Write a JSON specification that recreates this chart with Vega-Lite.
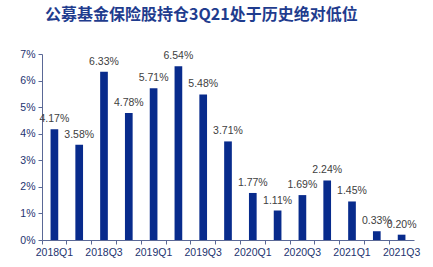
{
  "$schema": "https://vega.github.io/schema/vega-lite/v6.json",
  "autosize": {"type": "none"},
  "width": 372,
  "height": 186,
  "padding": {"left": 42, "top": 54, "right": 19, "bottom": 27},
  "background": "white",
  "config": {
    "view": {"stroke": null},
    "font": "Liberation Sans"
  },
  "title": {
    "text": "公募基金保险股持仓3Q21处于历史绝对低位",
    "anchor": "start",
    "frame": "group",
    "dx": 3,
    "offset": 26,
    "font": "Noto Sans CJK SC",
    "fontSize": 16,
    "fontWeight": "bold",
    "color": "#1f3c8e"
  },
  "data": {
    "values": [
      {"q": "2018Q1", "v": 0.0417},
      {"q": "2018Q2", "v": 0.0358},
      {"q": "2018Q3", "v": 0.0633},
      {"q": "2018Q4", "v": 0.0478},
      {"q": "2019Q1", "v": 0.0571},
      {"q": "2019Q2", "v": 0.0654},
      {"q": "2019Q3", "v": 0.0548},
      {"q": "2019Q4", "v": 0.0371},
      {"q": "2020Q1", "v": 0.0177},
      {"q": "2020Q2", "v": 0.0111},
      {"q": "2020Q3", "v": 0.0169},
      {"q": "2020Q4", "v": 0.0224},
      {"q": "2021Q1", "v": 0.0145},
      {"q": "2021Q2", "v": 0.0033},
      {"q": "2021Q3", "v": 0.0020}
    ]
  },
  "encoding": {
    "x": {
      "field": "q",
      "type": "nominal",
      "sort": null,
      "scale": {"paddingInner": 0, "paddingOuter": 0},
      "axis": {
        "title": null,
        "labelAngle": 0,
        "labelExpr": "(indexof(datum.value,'Q1')>0 || indexof(datum.value,'Q3')>0) ? datum.value : ''",
        "labelFontSize": 10.5,
        "labelColor": "#23336f",
        "labelPadding": 3,
        "bandPosition": 0,
        "tickSize": 4,
        "tickColor": "#5a6896",
        "domainColor": "#5a6896"
      }
    },
    "y": {
      "field": "v",
      "type": "quantitative",
      "scale": {"domain": [0, 0.07]},
      "axis": {
        "title": null,
        "format": ".0%",
        "values": [0, 0.01, 0.02, 0.03, 0.04, 0.05, 0.06, 0.07],
        "grid": false,
        "labelFontSize": 10.5,
        "labelColor": "#23336f",
        "labelPadding": 3,
        "tickSize": 4,
        "tickColor": "#5a6896",
        "domainColor": "#5a6896"
      }
    }
  },
  "layer": [
    {"mark": {"type": "bar", "color": "#082b8c", "width": {"band": 0.31}}},
    {
      "mark": {
        "type": "text",
        "baseline": "bottom",
        "dy": -5,
        "fontSize": 10.5,
        "color": "#404040"
      },
      "encoding": {"text": {"field": "v", "format": ".2%"}}
    }
  ]
}
